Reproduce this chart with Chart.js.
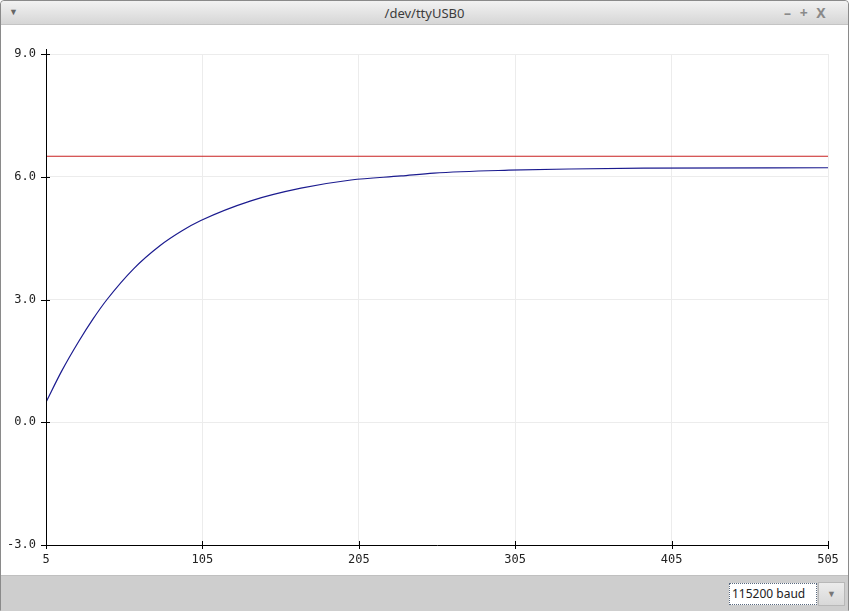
<!DOCTYPE html>
<html>
<head>
<meta charset="utf-8">
<script src="https://cdn.jsdelivr.net/npm/chart.js@4/dist/chart.umd.min.js"></script>
<style>
  html, body { margin: 0; padding: 0; width: 849px; height: 611px; overflow: hidden; background: #fff; }
  #win { position: absolute; left: 0; top: 0; width: 847px; height: 609px; border: 1px solid #8a8a8a; border-radius: 4px 4px 0 0; background: #fff; }
  #titlebar { position: absolute; left: 0; top: 0; width: 847px; height: 23px; background: linear-gradient(#f2f2f2, #d6d6d6); border-bottom: 1px solid #c4c4c4; border-radius: 4px 4px 0 0; font-family: "Noto Sans", sans-serif; font-size: 13px; color: #3c3c3c; }
  #title { position: absolute; left: 0; width: 847px; top: 3px; text-align: center; }
  #menu { position: absolute; left: 8px; top: 4px; font-size: 9px; color: #666; }
  #btns { position: absolute; left: 783px; top: 2px; font-size: 14px; font-weight: bold; color: #8a8a8a; word-spacing: 5px; }
  #plot { position: absolute; left: -1px; top: 23px; }
  #bottombar { position: absolute; left: 0; top: 574px; width: 847px; height: 35px; background: #cecece; border-top: 1px solid #c0c0c0; }
  #baud { position: absolute; left: 728px; top: 7px; width: 88px; height: 22px; background: #fff; border: 1px dotted #5a6a80; box-sizing: border-box; font-family: "Noto Sans", sans-serif; font-size: 12px; color: #222; line-height: 20px; padding-left: 2px; }
  #arrow { position: absolute; left: 817px; top: 6px; width: 27px; height: 24px; background: linear-gradient(#ececec, #d8d8d8); border: 1px solid #b8b8b8; box-sizing: border-box; color: #777; font-size: 9px; text-align: center; line-height: 22px; }
</style>
</head>
<body>
<div id="win">
  <div id="titlebar">
    <div id="menu">▼</div>
    <div id="title">/dev/ttyUSB0</div>
    <div id="btns">– + X</div>
  </div>
  <canvas id="plot" width="849" height="551"></canvas>
  <div id="bottombar">
    <div id="baud">115200 baud</div>
    <div id="arrow">▼</div>
  </div>
</div>
<script>
// sample index
const xValues = [5, 15, 26, 35, 44, 61, 78, 92, 104, 136, 168, 200, 232, 253, 301, 340, 387, 505];
// blue trace (rising response)
const blueValues = [0.49, 1.25, 1.98, 2.52, 3.0, 3.75, 4.32, 4.68, 4.93, 5.41, 5.72, 5.92, 6.02, 6.09, 6.16, 6.19, 6.21, 6.22];
// red trace (setpoint)
const redValues = [6.5, 6.5, 6.5, 6.5, 6.5, 6.5, 6.5, 6.5, 6.5, 6.5, 6.5, 6.5, 6.5, 6.5, 6.5, 6.5, 6.5, 6.5];

const xTicks = [5, 105, 205, 305, 405, 505];
const yTicks = [-3, 0, 3, 6, 9];

const tickFont = { family: 'DejaVu Sans Mono', size: 12 };

// small black crosses where ticks meet the axes
const crossTicks = {
  id: 'crossTicks',
  afterDraw(chart) {
    const { ctx, chartArea, scales } = chart;
    ctx.save();
    ctx.strokeStyle = '#000';
    ctx.lineWidth = 1;
    ctx.beginPath();
    yTicks.forEach(v => {
      const y = Math.round(scales.y.getPixelForValue(v)) + 0.5;
      ctx.moveTo(chartArea.left - 5, y);
      ctx.lineTo(chartArea.left + 4, y);
    });
    xTicks.forEach(v => {
      const x = Math.round(scales.x.getPixelForValue(v)) + 0.5;
      ctx.moveTo(x, chartArea.bottom - 4);
      ctx.lineTo(x, chartArea.bottom + 4);
    });
    // axis lines
    const lx = Math.round(chartArea.left) + 0.5;
    ctx.moveTo(lx, chartArea.top - 5);
    ctx.lineTo(lx, chartArea.bottom);
    const by = Math.round(chartArea.bottom) + 0.5;
    ctx.moveTo(chartArea.left, by);
    ctx.lineTo(chartArea.right + 1, by);
    ctx.stroke();
    ctx.restore();
  }
};

new Chart(document.getElementById('plot'), {
  type: 'line',
  data: {
    datasets: [
      {
        data: xValues.map((x, i) => ({ x, y: redValues[i] })),
        borderColor: '#c82020',
        borderWidth: 1.1,
        pointRadius: 0,
      },
      {
        data: xValues.map((x, i) => ({ x, y: blueValues[i] })),
        borderColor: '#1b1b8f',
        borderWidth: 1.2,
        pointRadius: 0,
        cubicInterpolationMode: 'monotone',
      },
    ],
  },
  options: {
    responsive: false,
    animation: false,
    devicePixelRatio: 1,
    layout: { padding: { left: 0, top: 30, right: 21, bottom: 0 } },
    plugins: { legend: { display: false }, tooltip: { enabled: false } },
    scales: {
      x: {
        type: 'linear',
        min: 5,
        max: 505,
        afterBuildTicks: s => { s.ticks = xTicks.map(v => ({ value: v })); },
        afterFit: s => { s.height = 30; },
        grid: { color: '#ececec', drawTicks: false },
        border: { display: false },
        ticks: { font: tickFont, color: '#222', padding: 8, maxRotation: 0, autoSkip: false },
      },
      y: {
        min: -3,
        max: 9,
        afterBuildTicks: s => { s.ticks = yTicks.map(v => ({ value: v })); },
        afterFit: s => { s.width = 46; },
        grid: { color: '#ececec', drawTicks: false },
        border: { display: false },
        ticks: { font: tickFont, color: '#222', padding: 10, callback: v => v.toFixed(1) },
      },
    },
  },
  plugins: [crossTicks],
});
</script>
</body>
</html>
